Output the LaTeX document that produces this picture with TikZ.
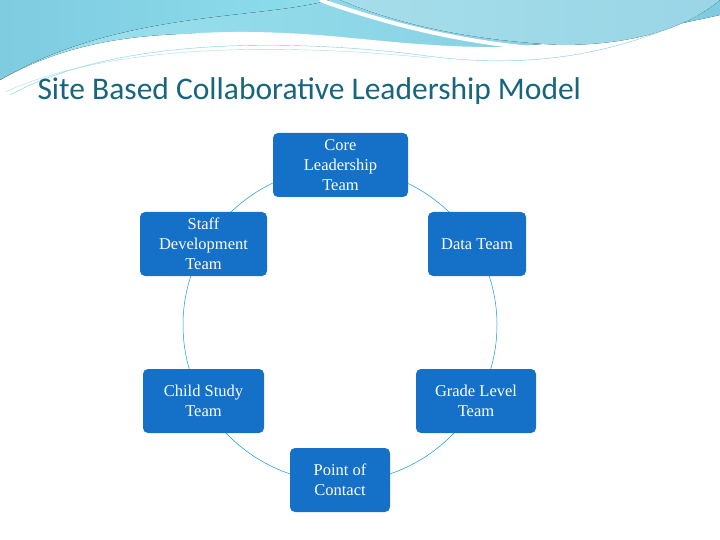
\documentclass[tikz,border=0pt]{standalone}
\usepackage{fontspec}
\setmainfont{Liberation Serif}
\newfontfamily\titlefont{Carlito}
\definecolor{boxblue}{HTML}{1570C8}
\definecolor{titleteal}{HTML}{17657F}
\definecolor{waveA}{HTML}{7FCBE0}
\definecolor{waveB}{HTML}{5AD0E4}
\definecolor{waveC}{HTML}{A6DDEA}
\begin{document}
\begin{tikzpicture}[x=1pt,y=-1pt,
  team/.style={draw=none,fill=boxblue,rounded corners=5pt,text=white,align=center,font=\fontsize{16.5}{20}\selectfont,inner sep=0pt}]
\useasboundingbox (0,0) rectangle (720,540);
\fill[white] (0,0) rectangle (720,540);
% top waves
\fill[left color=waveA,right color=waveB!70] (0,0) -- (330,0) .. controls (260,20) and (120,10) .. (0,80) -- cycle;
\fill[left color=waveB!60,right color=waveA] (0,80) .. controls (80,35) and (170,25) .. (330,40) .. controls (420,48) and (520,60) .. (720,15) -- (720,0) -- (330,0) .. controls (260,20) and (120,10) .. (0,80);
\fill[white] (0,85) .. controls (90,35) and (200,25) .. (330,36) .. controls (430,45) and (540,62) .. (720,20) -- (720,30) .. controls (560,75) and (430,60) .. (330,45) .. controls (200,35) and (90,45) .. (0,90) -- cycle;
\fill[left color=waveC,right color=waveA!80] (340,0) .. controls (400,25) and (470,40) .. (560,45) .. controls (640,45) and (690,25) .. (720,0) -- cycle;
\draw[white,line width=4pt] (320,0) .. controls (390,25) and (470,45) .. (560,50);
\draw[waveA,line width=0.4pt] (10,95) .. controls (120,35) and (300,40) .. (420,55) .. controls (560,75) and (650,40) .. (720,5);
\draw[waveA!70,line width=0.4pt] (5,92) .. controls (120,40) and (300,45) .. (430,58);
\node[anchor=west,text=titleteal,font=\titlefont\fontsize{31.5}{36}\selectfont] (title) at (34,91) {Site Based Collaborative Leadership Model};
% ring
\draw[boxblue!70!cyan,line width=0.5pt] (340,325) circle (157);
\node[team,minimum width=135,minimum height=64] (core) at (340.5,165) {Core\\Leadership\\Team};
\node[team,minimum width=98,minimum height=64] (data) at (477,244) {Data Team};
\node[team,minimum width=120,minimum height=64] (grade) at (476,401) {Grade Level\\Team};
\node[team,minimum width=100,minimum height=64] (point) at (340,480) {Point of\\Contact};
\node[team,minimum width=121,minimum height=64] (child) at (203.5,401) {Child Study\\Team};
\node[team,minimum width=127,minimum height=64] (staff) at (203.5,244) {Staff\\Development\\Team};
\end{tikzpicture}
\end{document}
